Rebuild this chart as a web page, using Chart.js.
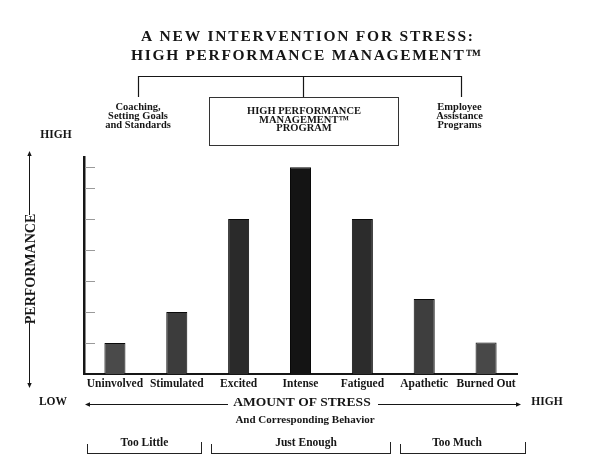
<!DOCTYPE html>
<html>
<head>
<meta charset="utf-8">
<script src="https://cdn.jsdelivr.net/npm/chart.js@4.4.0/dist/chart.umd.min.js"></script>
<style>
  html, body { margin: 0; padding: 0; background: #fff; }
  #wrap { width: 590px; height: 465px; position: relative; }
</style>
</head>
<body>
<div id="wrap"><canvas id="c" width="590" height="465"></canvas></div>
<script>
// ---- data ----
const categories = ['Uninvolved', 'Stimulated', 'Excited', 'Intense', 'Fatigued', 'Apathetic', 'Burned Out'];
const performance = [1, 2, 5, 6.67, 5, 2.42, 1.02];
const yTickValues = [1, 2, 3, 4, 5, 6, 6.67];
const titleLines = ['A NEW INTERVENTION FOR STRESS:', 'HIGH PERFORMANCE MANAGEMENT\u2122'];
const leftBranch = ['Coaching,', 'Setting Goals', 'and Standards'];
const centerBranch = ['HIGH PERFORMANCE', 'MANAGEMENT\u2122', 'PROGRAM'];
const rightBranch = ['Employee', 'Assistance', 'Programs'];
const stressGroups = ['Too Little', 'Just Enough', 'Too Much'];

// ---- style ----
const barColors = ['#4a4a4a', '#3c3c3c', '#2a2a2a', '#141414', '#2c2c2c', '#3e3e3e', '#484848'];
const INK = '#161616';
const SERIF = '"Liberation Serif", "Times New Roman", serif';

function font(size) { return 'bold ' + size + 'px ' + SERIF; }

function spacedText(ctx, s, cx, cy, targetW) {
  const chars = Array.from(s);
  const widths = chars.map(c => ctx.measureText(c).width);
  const natural = widths.reduce((a, b) => a + b, 0);
  const sp = targetW ? (targetW - natural) / (chars.length - 1) : 0;
  let x = cx - (natural + sp * (chars.length - 1)) / 2;
  ctx.textAlign = 'left';
  chars.forEach((c, i) => { ctx.fillText(c, x, cy); x += widths[i] + sp; });
  ctx.textAlign = 'center';
}

function line(ctx, x1, y1, x2, y2, w) {
  ctx.lineWidth = w || 1;
  ctx.beginPath(); ctx.moveTo(x1, y1); ctx.lineTo(x2, y2); ctx.stroke();
}

function arrowHead(ctx, x, y, dir) {
  ctx.beginPath();
  const L = 5, H = 2.2;
  if (dir === 'left') { ctx.moveTo(x, y); ctx.lineTo(x + L, y - H); ctx.lineTo(x + L, y + H); }
  if (dir === 'right') { ctx.moveTo(x, y); ctx.lineTo(x - L, y - H); ctx.lineTo(x - L, y + H); }
  if (dir === 'up') { ctx.moveTo(x, y); ctx.lineTo(x - H, y + L); ctx.lineTo(x + H, y + L); }
  if (dir === 'down') { ctx.moveTo(x, y); ctx.lineTo(x - H, y - L); ctx.lineTo(x + H, y - L); }
  ctx.closePath(); ctx.fill();
}

const decor = {
  id: 'decor',
  afterDraw(chart) {
    const ctx = chart.ctx;
    const y = chart.scales.y;
    const area = chart.chartArea;
    ctx.save();
    ctx.fillStyle = INK;
    ctx.strokeStyle = INK;
    ctx.textAlign = 'center';
    ctx.textBaseline = 'middle';

    // inner tick marks on y axis
    ctx.strokeStyle = '#9a9a9a';
    yTickValues.forEach(v => {
      const py = Math.round(y.getPixelForValue(v)) + 0.5;
      line(ctx, area.left + 1, py, area.left + 11, py, 1);
    });
    ctx.strokeStyle = INK;

    // title
    ctx.font = font(15.5);
    spacedText(ctx, titleLines[0], 307, 37, 332);
    spacedText(ctx, titleLines[1], 306, 55.5, 350);

    // org connector
    line(ctx, 138, 76.5, 462, 76.5, 1.2);
    line(ctx, 138.5, 76, 138.5, 97, 1.2);
    line(ctx, 303.5, 76, 303.5, 97, 1.2);
    line(ctx, 461.5, 76, 461.5, 97, 1.2);
    ctx.strokeStyle = '#333';
    ctx.lineWidth = 1;
    ctx.strokeRect(209.5, 97.5, 189, 48);
    ctx.strokeStyle = INK;

    ctx.font = font(10.5);
    [111.5, 120, 128.5].forEach((py, i) => ctx.fillText(centerBranch[i], 304, py));
    [107.5, 116.5, 125.5].forEach((py, i) => ctx.fillText(leftBranch[i], 138, py));
    [107.5, 116.5, 125.5].forEach((py, i) => ctx.fillText(rightBranch[i], 459.5, py));

    // HIGH / LOW on performance axis
    ctx.font = font(11.5);
    ctx.fillText('HIGH', 56, 135.5);
    ctx.fillText('LOW', 53, 402.5);

    // PERFORMANCE vertical label with arrows
    ctx.save();
    ctx.translate(30, 269);
    ctx.rotate(-Math.PI / 2);
    ctx.font = font(14);
    ctx.fillText('PERFORMANCE', 0, 1);
    ctx.restore();
    line(ctx, 29.5, 153, 29.5, 215, 1);
    line(ctx, 29.5, 323, 29.5, 385, 1);
    arrowHead(ctx, 29.5, 151, 'up');
    arrowHead(ctx, 29.5, 388, 'down');

    // AMOUNT OF STRESS
    ctx.font = font(13.5);
    ctx.fillText('AMOUNT OF STRESS', 302, 403);
    line(ctx, 88, 404.5, 228, 404.5, 1);
    line(ctx, 378, 404.5, 518, 404.5, 1);
    arrowHead(ctx, 85, 404.5, 'left');
    arrowHead(ctx, 521, 404.5, 'right');
    ctx.font = font(11.5);
    ctx.fillText('HIGH', 547, 402.5);
    ctx.font = font(11);
    ctx.fillText('And Corresponding Behavior', 305, 420);

    // brackets
    const brackets = [[87, 201, 144.5], [211, 390, 306], [400, 525, 457]];
    ctx.strokeStyle = '#222';
    brackets.forEach((b, i) => {
      line(ctx, b[0] + 0.5, 444, b[0] + 0.5, 454, 1);
      line(ctx, b[1] + 0.5, 442, b[1] + 0.5, 454, 1);
      line(ctx, b[0], 453.5, b[1] + 1, 453.5, 1);
      ctx.font = font(11.5);
      ctx.fillText(stressGroups[i], b[2], 443);
    });

    ctx.restore();
  }
};

new Chart(document.getElementById('c'), {
  type: 'bar',
  data: {
    labels: categories,
    datasets: [{
      data: performance,
      backgroundColor: barColors,
      borderColor: '#0a0a0a',
      borderWidth: 1,
      barPercentage: 0.34,
      categoryPercentage: 1.0
    }]
  },
  options: {
    responsive: false,
    animation: false,
    devicePixelRatio: 1,
    layout: { padding: { left: 84, right: 73, top: 157, bottom: 69 } },
    plugins: { legend: { display: false }, tooltip: { enabled: false }, title: { display: false } },
    scales: {
      x: {
        grid: { display: false, drawTicks: false },
        border: { display: true, color: INK, width: 2 },
        ticks: {
          color: INK,
          font: { family: SERIF, weight: 'bold', size: 11.5 },
          padding: 3,
          maxRotation: 0,
          autoSkip: false
        },
        afterFit(s) { s.height = 22; }
      },
      y: {
        min: 0,
        max: 7,
        grid: { display: false, drawTicks: false },
        border: { display: true, color: INK, width: 2.5 },
        ticks: { display: false },
        afterFit(s) { s.width = 0; }
      }
    }
  },
  plugins: [decor]
});
</script>
</body>
</html>
